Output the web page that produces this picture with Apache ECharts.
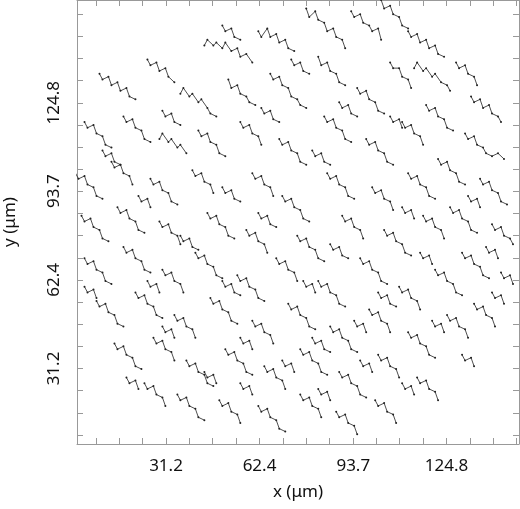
<!DOCTYPE html>
<html>
<head>
<meta charset="utf-8">
<script src="https://cdn.jsdelivr.net/npm/echarts@6/dist/echarts.min.js"></script>
<style>html,body{margin:0;padding:0;background:#fff}#chart{width:520px;height:509px}</style>
</head>
<body>
<div id="chart"></div>
<script>
// axis ticks
var tickValues = [31.2, 62.4, 93.7, 124.8];
var minorValues = [7.8, 15.6, 23.4, 39, 46.8, 54.6, 70.2, 78, 85.8, 101.5, 109.2, 117, 132.6, 140.4, 148.2, 156];

// tracks, flat [x1,y1,x2,y2,...]
var tracks = [
  [44,145, 45,147, 47,145, 48,146, 50,144, 51,146, 53,143, 55,144, 56,141, 58,142, 60,139],
  [62,150, 63,148, 65,151, 66,148, 68,149, 69,146, 71,147, 72,144, 74,143],
  [78,158, 79,155, 81,157, 82,154, 84,153, 85,150, 87,151, 88,148, 90,147, 91,144],
  [93,157, 94,155, 96,156, 97,153, 99,152, 100,150, 102,151, 103,147],
  [103,161, 104,158, 106,159, 107,156, 109,155, 110,152, 112,151],
  [112,150, 113,148, 115,149, 116,146, 118,147, 119,144, 121,145, 122,142, 124,141],
  [114,137, 115,139, 117,136, 118,137, 120,134, 121,135, 123,132, 125,131, 126,129],
  [128,139, 129,137, 131,138, 132,135, 134,134, 135,131],
  [133,127, 134,125, 136,126, 137,123, 139,124, 140,121, 142,120, 143,118],
  [9,135, 10,133, 12,134, 13,131, 15,132, 16,129, 18,130, 19,127, 21,126],
  [25,140, 26,138, 28,139, 29,136, 31,137, 32,134, 34,132],
  [36,128, 37,130, 39,127, 40,128, 42,125, 43,126, 45,123, 46,121, 48,120],
  [52,133, 53,130, 55,131, 56,128, 58,127, 59,125, 61,124],
  [66,135, 67,133, 69,134, 70,131, 72,130, 73,127, 75,126, 76,124, 78,123],
  [82,141, 83,138, 85,139, 86,136, 88,135, 89,132, 91,131],
  [95,130, 96,128, 98,129, 99,126, 101,125, 102,122, 104,121],
  [106,139, 107,137, 109,137, 110,134, 112,133, 113,130],
  [118,124, 119,122, 121,123, 122,120, 124,119, 125,116, 127,115],
  [131,114, 132,112, 134,113, 135,110, 137,109, 138,107, 140,106, 142,107, 144,105],
  [4,118, 5,116, 7,117, 8,114, 10,113, 11,110, 13,109],
  [17,120, 18,118, 20,119, 21,116, 23,115, 24,112, 26,111],
  [29,112, 30,114, 32,111, 33,112, 35,109, 36,110, 38,107],
  [42,115, 43,113, 45,114, 46,111, 48,110, 49,107, 51,106],
  [56,118, 57,116, 59,117, 60,114, 62,113, 63,110],
  [69,112, 70,110, 72,111, 73,108, 75,107, 76,104, 78,103],
  [84,120, 85,118, 87,119, 88,116, 90,115, 91,112, 93,111],
  [98,112, 99,110, 101,111, 102,108, 104,107, 105,104, 107,103],
  [110,118, 111,116, 113,117, 114,114, 116,113, 117,110],
  [122,105, 123,103, 125,104, 126,101, 128,100, 129,97, 131,96],
  [136,98, 137,96, 139,97, 140,94, 142,93, 143,90, 145,89],
  [1,100, 2,98, 4,99, 5,96, 7,95, 8,92, 10,91],
  [13,104, 14,102, 16,103, 17,100, 19,99, 20,96],
  [26,98, 27,96, 29,97, 30,94, 32,93, 33,90, 35,89],
  [40,101, 41,99, 43,100, 44,97, 46,96, 47,93],
  [60,100, 61,98, 63,99, 64,96, 66,95, 67,92],
  [70,92, 71,90, 73,91, 74,88, 76,87, 77,84, 79,83],
  [85,100, 86,98, 88,99, 89,96, 91,95, 92,92, 94,91],
  [100,95, 101,93, 103,94, 104,91, 106,90, 107,87],
  [112,100, 113,98, 115,99, 116,96, 118,95, 119,92, 121,91],
  [126,88, 127,86, 129,87, 130,84, 132,83, 133,80, 135,79],
  [140,82, 141,80, 143,81, 144,78, 146,77, 147,75],
  [3,85, 4,83, 6,84, 7,81, 9,80, 10,77, 12,76],
  [15,88, 16,86, 18,87, 19,84, 21,83, 22,80, 24,79],
  [29,83, 30,81, 32,82, 33,79, 35,78, 36,75],
  [45,86, 46,84, 48,85, 49,82, 51,81, 52,78, 54,77],
  [58,80, 59,78, 61,79, 62,76, 64,75, 65,72],
  [75,78, 76,76, 78,77, 79,74, 81,73, 82,70, 84,69],
  [90,85, 91,83, 93,84, 94,81, 96,80, 97,77],
  [104,80, 105,78, 107,79, 108,76, 110,75, 111,72, 113,71],
  [117,85, 118,83, 120,84, 121,81, 123,80, 124,77],
  [130,72, 131,70, 133,71, 134,68, 136,67, 137,64, 139,63],
  [143,65, 144,63, 146,64, 147,61],
  [4,70, 5,68, 7,69, 8,66, 10,65, 11,62, 13,61],
  [17,74, 18,72, 20,73, 21,70, 23,69, 24,66, 26,65],
  [30,66, 31,64, 33,65, 34,62, 36,61, 37,58],
  [41,72, 42,70, 44,71, 45,68, 47,67, 48,64, 50,63],
  [55,64, 56,62, 58,63, 59,60, 61,59, 62,56, 64,55],
  [68,70, 69,68, 71,69, 72,66, 74,65, 75,62],
  [82,62, 83,60, 85,61, 86,58, 88,57, 89,54, 91,53],
  [96,70, 97,68, 99,69, 100,66, 102,65, 103,62, 105,61],
  [109,60, 110,58, 112,59, 113,56, 115,55, 116,52],
  [121,66, 122,64, 124,65, 125,62, 127,61, 128,58, 130,57],
  [134,54, 135,52, 137,53, 138,50, 140,49, 141,46],
  [8,55, 9,53, 11,54, 12,51, 14,50, 15,47, 17,46],
  [21,58, 22,56, 24,57, 25,54, 27,53, 28,50, 30,49],
  [34,50, 35,48, 37,49, 38,46, 40,45, 41,42],
  [46,56, 47,54, 49,55, 50,52, 52,51, 53,48, 55,47],
  [60,48, 61,46, 63,47, 64,44, 66,43, 67,40],
  [72,54, 73,52, 75,53, 76,50, 78,49, 79,46, 81,45],
  [86,46, 87,44, 89,45, 90,42, 92,41, 93,38, 95,37],
  [99,52, 100,50, 102,51, 103,48, 105,47, 106,44],
  [112,44, 113,42, 115,43, 116,40, 118,39, 119,36, 121,35],
  [125,50, 126,48, 128,49, 129,46, 131,45, 132,42],
  [14,40, 15,38, 17,39, 18,36, 20,35, 21,32, 23,31],
  [27,42, 28,40, 30,41, 31,38, 33,37, 34,34],
  [38,34, 39,32, 41,33, 42,30, 44,29, 45,26, 47,25],
  [51,38, 52,36, 54,37, 55,34, 57,33, 58,30, 60,29],
  [64,32, 65,30, 67,31, 68,28, 70,27, 71,24],
  [76,38, 77,36, 79,37, 80,34, 82,33, 83,30, 85,29],
  [89,30, 90,28, 92,29, 93,26, 95,25, 96,22, 98,21],
  [102,36, 103,34, 105,35, 106,32, 108,31, 109,28],
  [115,28, 116,26, 118,27, 119,24, 121,23, 122,20],
  [24,26, 25,24, 27,25, 28,22, 30,21, 31,18],
  [35,22, 36,20, 38,21, 39,18, 41,17, 42,14, 44,13],
  [49,20, 50,18, 52,19, 53,16, 55,15, 56,12],
  [62,18, 63,16, 65,17, 66,14, 68,13, 69,10, 71,9],
  [76,22, 77,20, 79,21, 80,18, 82,17, 83,14],
  [88,16, 89,14, 91,15, 92,12, 94,11, 95,8],
  [101,20, 102,18, 104,19, 105,16, 107,15, 108,12],
  [50,152, 51,150, 53,151, 54,148, 56,147],
  [73,140, 74,138, 76,139, 77,136, 79,135],
  [89,125, 90,123, 92,124, 93,121, 95,120],
  [63,123, 64,121, 66,122, 67,119, 69,118],
  [30,122, 31,120, 33,121, 34,118, 36,117],
  [10,108, 11,106, 13,107, 14,104, 16,103],
  [50,95, 51,93, 53,94, 54,91, 56,90],
  [80,108, 81,106, 83,107, 84,104, 86,103],
  [106,120, 107,118, 109,119, 110,116],
  [132,92, 133,90, 135,91, 136,88],
  [22,92, 23,90, 25,91, 26,88],
  [36,78, 37,76, 39,77, 40,74, 42,73],
  [62,86, 63,84, 65,85, 66,82, 68,81],
  [86,75, 87,73, 89,74, 90,71, 92,70],
  [110,88, 111,86, 113,87, 114,84],
  [138,74, 139,72, 141,73, 142,70],
  [25,62, 26,60, 28,61, 29,58],
  [50,62, 51,60, 53,61, 54,58, 56,57],
  [77,62, 78,60, 80,61, 81,58],
  [102,58, 103,56, 105,57, 106,54, 108,53],
  [116,72, 117,70, 119,71, 120,68],
  [140,58, 141,56, 143,57, 144,54],
  [4,60, 5,58, 7,59, 8,56],
  [30,46, 31,44, 33,45, 34,42],
  [56,42, 57,40, 59,41, 60,38],
  [80,42, 81,40, 83,41, 84,38, 86,37],
  [94,48, 95,46, 97,47, 98,44],
  [120,48, 121,46, 123,47, 124,44],
  [130,36, 131,34, 133,35, 134,32],
  [18,28, 19,26, 21,27, 22,24],
  [44,30, 45,28, 47,29, 48,26],
  [70,34, 71,32, 73,33, 74,30],
  [96,34, 97,32, 99,33, 100,30],
  [110,26, 111,24, 113,25, 114,22],
  [56,26, 57,24, 59,25, 60,22],
  [82,24, 83,22, 85,23, 86,20]
];

var series = tracks.map(function (t) {
  var pts = [];
  for (var i = 0; i < t.length; i += 2) pts.push([t[i], t[i + 1]]);
  return {
    type: 'line', data: pts, symbol: 'circle', symbolSize: 2,
    showSymbol: true, silent: true,
    itemStyle: { color: '#222' },
    lineStyle: { color: '#222', width: 0.8 }
  };
});

var axisCommon = {
  type: 'value',
  axisLine: { show: true, lineStyle: { color: '#999' } },
  axisTick: { show: true, inside: true, length: 6, customValues: tickValues.concat(minorValues), lineStyle: { color: '#999' } },
  axisLabel: { customValues: tickValues, color: '#111', fontSize: 17, fontFamily: 'Noto Sans', formatter: function (v) { return v.toFixed(1); } },
  splitLine: { show: false },
  nameLocation: 'middle',
  nameTextStyle: { color: '#111', fontSize: 17, fontFamily: 'Noto Sans' }
};

var chart = echarts.init(document.getElementById('chart'));
chart.setOption({
  animation: false,
  grid: { left: 77, right: 1, top: 0, bottom: 65, outerBoundsMode: 'none' },
  xAxis: [
    Object.assign({}, axisCommon, { min: 1.5, max: 149, name: 'x (μm)', nameGap: 40, axisLabel: Object.assign({}, axisCommon.axisLabel, { margin: 14 }) }),
    Object.assign({}, axisCommon, { min: 1.5, max: 149, position: 'top', axisLabel: { show: false } })
  ],
  yAxis: [
    Object.assign({}, axisCommon, { min: 4.6, max: 161, name: 'y (μm)', nameGap: 58, axisLabel: Object.assign({}, axisCommon.axisLabel, { rotate: 90, margin: 14 }) }),
    Object.assign({}, axisCommon, { min: 4.6, max: 161, position: 'right', axisLabel: { show: false } })
  ],
  series: series
});
</script>
</body>
</html>
